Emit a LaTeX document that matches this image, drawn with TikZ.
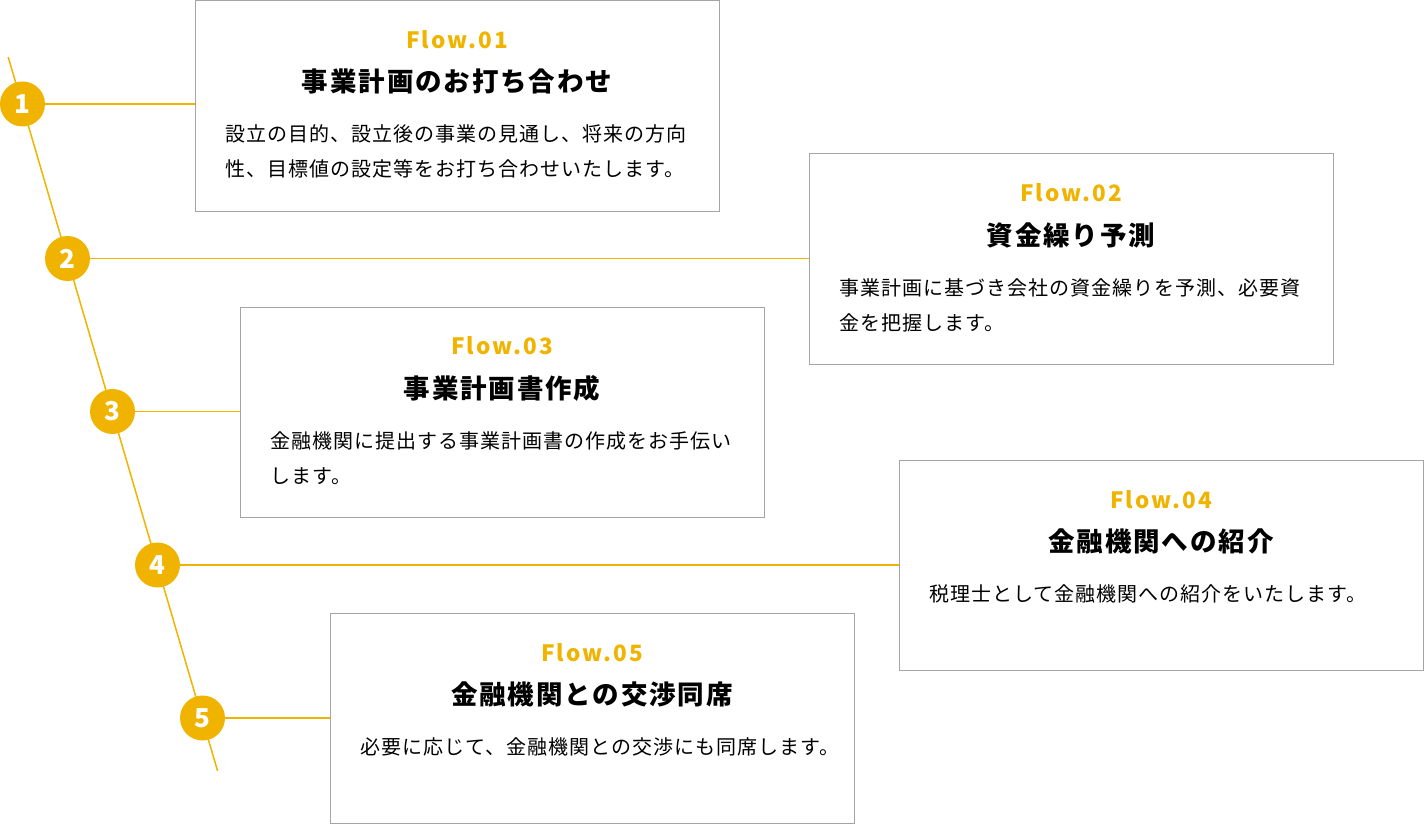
\documentclass[tikz,border=0pt]{standalone}
\usepackage{fontspec}
\setmainfont{Noto Sans CJK JP}
\newfontfamily\jpbody[LetterSpace=5]{Noto Sans CJK JP}
\newfontfamily\jptitle[LetterSpace=7]{Noto Sans CJK JP}
\newfontfamily\jpflow[LetterSpace=10]{Noto Sans CJK JP}
\definecolor{gold}{RGB}{240,180,0}
\definecolor{boxgray}{RGB}{165,165,165}
\tikzset{
  stepnum/.style={circle,fill=gold,minimum size=45pt,inner sep=0pt,text=white,font=\bfseries\fontsize{26}{26}\selectfont},
  flowbox/.style={draw=boxgray,line width=1pt,minimum width=524pt,minimum height=210pt,anchor=north west,inner sep=0pt},
  flowlabel/.style={text=gold,font=\jpflow\bfseries\fontsize{22.5}{22.5}\selectfont,inner sep=0pt},
  flowtitle/.style={text=black,font=\jptitle\bfseries\fontsize{26.5}{26.5}\selectfont,inner sep=0pt},
  flowbody/.style={text=black,font=\jpbody\fontsize{20}{20}\selectfont,inner sep=0pt,anchor=west},
  link/.style={draw=gold,line width=1.5pt}
}
\begin{document}
\begin{tikzpicture}[x=1pt,y=-1pt]
\useasboundingbox (0,0) rectangle (1425,824);
\coordinate (ltop) at (8.2,57);
\coordinate (lbot) at (217.6,771);
\draw[link] (ltop) -- (lbot);
% boxes
\node[flowbox] (b1) at (195,0.5) {};
\node[flowbox] (b2) at (809,153.5) {};
\node[flowbox] (b3) at (240,306.5) {};
\node[flowbox] (b4) at (899,460) {};
\node[flowbox] (b5) at (330,613) {};
% circles
\node[stepnum] (c1) at (22.5,104) {1};
\node[stepnum] (c2) at (67.5,258.5) {2};
\node[stepnum] (c3) at (112.5,411.5) {3};
\node[stepnum] (c4) at (157.5,565) {4};
\node[stepnum] (c5) at (202.5,718) {5};
% connectors
\draw[link] (c1) -- (c1 -| b1.west);
\draw[link] (c2) -- (c2 -| b2.west);
\draw[link] (c3) -- (c3 -| b3.west);
\draw[link] (c4) -- (c4 -| b4.west);
\draw[link] (c5) -- (c5 -| b5.west);
% box 1
\node[flowlabel] (f1) at (457,40) {Flow.01};
\node[flowtitle] (t1) at (457,81) {事業計画のお打ち合わせ};
\node[flowbody] (d1a) at (225,134) {設立の目的、設立後の事業の見通し、将来の方向};
\node[flowbody] (d1b) at (225,169) {性、目標値の設定等をお打ち合わせいたします。};
% box 2
\node[flowlabel] (f2) at (1071,193) {Flow.02};
\node[flowtitle] (t2) at (1071,235) {資金繰り予測};
\node[flowbody] (d2a) at (839,288) {事業計画に基づき会社の資金繰りを予測、必要資};
\node[flowbody] (d2b) at (839,323) {金を把握します。};
% box 3
\node[flowlabel] (f3) at (502,346) {Flow.03};
\node[flowtitle] (t3) at (502,388) {事業計画書作成};
\node[flowbody] (d3a) at (270,441) {金融機関に提出する事業計画書の作成をお手伝い};
\node[flowbody] (d3b) at (270,476) {します。};
% box 4
\node[flowlabel] (f4) at (1161,500) {Flow.04};
\node[flowtitle] (t4) at (1161,541) {金融機関への紹介};
\node[flowbody] (d4a) at (929,594) {税理士として金融機関への紹介をいたします。};
% box 5
\node[flowlabel] (f5) at (592,653) {Flow.05};
\node[flowtitle] (t5) at (592,694) {金融機関との交渉同席};
\node[flowbody] (d5a) at (360,747) {必要に応じて、金融機関との交渉にも同席します。};
\end{tikzpicture}
\end{document}
